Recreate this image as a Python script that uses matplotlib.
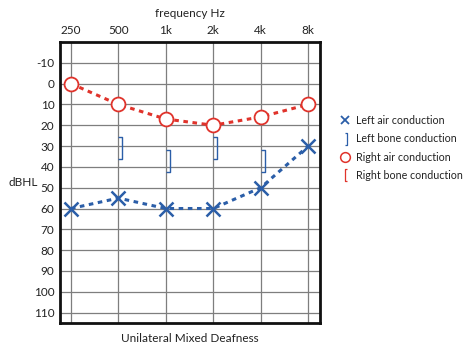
import matplotlib.pyplot as plt
from matplotlib.path import Path
from matplotlib.lines import Line2D

plt.rcParams['font.family'] = ['Lato', 'DejaVu Sans']
plt.rcParams['axes.unicode_minus'] = False

freqs = ["250", "500", "1k", "2k", "4k", "8k"]
left_air = [60, 55, 60, 60, 50, 30]
right_air = [0, 10, 17, 20, 16, 10]
bone_freqs = ["500", "1k", "2k", "4k"]
left_bone = [31, 37, 31, 37]
y_ticks = list(range(-10, 111, 10))

red = "#e0332b"
blue = "#2b5ea8"

# bracket markers, offset to the right of the grid line
rbr = Path([(0, 4), (1.4, 4), (1.4, -4), (0, -4)],
           [Path.MOVETO, Path.LINETO, Path.LINETO, Path.LINETO])
lbr = Path([(1.4, 4), (0, 4), (0, -4), (1.4, -4)],
           [Path.MOVETO, Path.LINETO, Path.LINETO, Path.LINETO])

fig = plt.figure(figsize=(4.74, 3.53), dpi=100)
ax = fig.add_axes([0.1266, 0.085, 0.5485, 0.796])

x = list(range(len(freqs)))
ax.plot(x, right_air, color=red, ls=(0, (1.5, 1.5)), lw=2.2, zorder=3)
ax.plot(x, right_air, ls='none', marker='o', ms=10, mfc='white', mec=red, mew=1.3, zorder=4)
ax.plot(x, left_air, color=blue, ls=(0, (1.5, 1.5)), lw=2.2, zorder=3)
ax.plot(x, left_air, ls='none', marker='x', ms=9.5, mec=blue, mew=1.8, zorder=4)

bx = [freqs.index(f) for f in bone_freqs]
ax.plot(bx, left_bone, ls='none', marker=rbr, ms=16, mfc='none', mec=blue, mew=1.0, zorder=4)

ax.set_xlim(-0.23, 5.25)
ax.set_ylim(115, -20)
ax.set_xticks(x)
ax.set_xticklabels(freqs)
ax.set_yticks(y_ticks)
ax.xaxis.tick_top()
ax.xaxis.set_label_position('top')
ax.tick_params(length=0, labelsize=8.5, colors='#222222', pad=4)
ax.set_xlabel("frequency Hz", fontsize=8.5, color='#222222', labelpad=6)
ax.set_ylabel("dBHL", fontsize=8.5, color='#222222', rotation=0, labelpad=8, va='center')
ax.grid(True, color='#7e7e7e', lw=0.9)
for s in ax.spines.values():
    s.set_linewidth(2)
    s.set_color('#111111')

fig.text(0.401, 0.042, "Unilateral Mixed Deafness", ha='center', va='center',
         fontsize=8.5, color='#222222')

handles = [
    Line2D([], [], ls='none', marker='x', ms=6, mec=blue, mew=1.3),
    Line2D([], [], ls='none', marker=rbr, ms=9, mfc='none', mec=blue, mew=0.9),
    Line2D([], [], ls='none', marker='o', ms=7, mfc='white', mec=red, mew=1.1),
    Line2D([], [], ls='none', marker=lbr, ms=9, mfc='none', mec=red, mew=0.9),
]
labels = ["Left air conduction", "Left bone conduction",
          "Right air conduction", "Right bone conduction"]
ax.legend(handles, labels, loc='upper left', bbox_to_anchor=(1.06, 0.755),
          frameon=False, fontsize=7.7, handlelength=1.0, handletextpad=0.55,
          labelspacing=0.68, borderaxespad=0, labelcolor='#222222')

fig.savefig("out.png", dpi=100)
